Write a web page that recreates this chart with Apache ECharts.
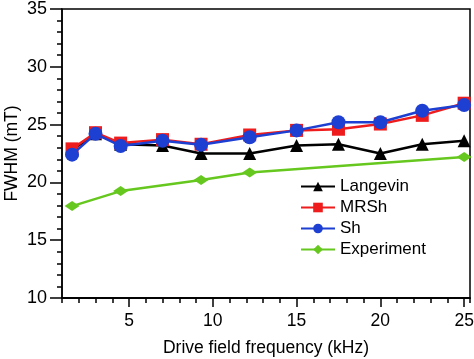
<!DOCTYPE html>
<html><head><meta charset="utf-8">
<script src="https://cdn.jsdelivr.net/npm/echarts@6/dist/echarts.min.js"></script>
<style>html,body{margin:0;padding:0;background:#fff}#c{width:474px;height:359px}</style>
</head><body><div id="c"></div>
<script>
const freq = [1.6, 3, 4.5, 7, 9.3, 12.2, 15, 17.5, 20, 22.5, 25];
const langevin = [22.8, 24.2, 23.3, 23.2, 22.5, 22.5, 23.2, 23.3, 22.5, 23.3, 23.6];
const mrsh = [22.9, 24.3, 23.4, 23.7, 23.3, 24.1, 24.5, 24.6, 25.05, 25.8, 26.85];
const sh = [22.4, 24.2, 23.15, 23.6, 23.25, 23.9, 24.5, 25.2, 25.2, 26.2, 26.7];
const expFreq = [1.6, 4.5, 9.3, 12.2, 25];
const experiment = [17.95, 19.25, 20.2, 20.85, 22.2];
const xMajor = [5, 10, 15, 20, 25];

const font = 'Liberation Sans, Arial, sans-serif';
const pair = (xs, ys) => xs.map((x, i) => [x, ys[i]]);
const chart = echarts.init(document.getElementById('c'));
const baseX = {
  type: 'value', min: 1, max: 25.35, gridIndex: 0, position: 'bottom',
  axisLine: {show: true, onZero: false, lineStyle: {color: '#000', width: 1.5}},
  splitLine: {show: false}
};
chart.setOption({
  animation: false,
  grid: {left: 62, right: 4, top: 9, bottom: 61, show: true, borderColor: '#000', borderWidth: 1.5,
         containLabel: false, outerBoundsMode: 'none'},
  legend: {
    orient: 'vertical', left: 295, top: 173, itemWidth: 34, itemHeight: 12, itemGap: 4,
    textStyle: {fontFamily: font, fontSize: 17, color: '#000'},
    data: ['Langevin', 'MRSh', 'Sh', 'Experiment']
  },
  xAxis: [
    Object.assign({}, baseX, {
      interval: 1,
      axisTick: {show: true, length: 5, lineStyle: {color: '#000', width: 1.5}},
      axisLabel: {show: false}
    }),
    Object.assign({}, baseX, {
      name: 'Drive field frequency (kHz)', nameLocation: 'middle', nameGap: 41, nameMoveOverlap: false,
      nameTextStyle: {fontFamily: font, fontSize: 17.5, color: '#000'},
      axisTick: {show: true, length: 9, customValues: xMajor, lineStyle: {color: '#000', width: 1.5}},
      axisLabel: {customValues: xMajor, fontFamily: font, fontSize: 17.5, color: '#000', margin: 14}
    })
  ],
  yAxis: {
    type: 'value', min: 10, max: 35, interval: 5,
    name: 'FWHM (mT)', nameLocation: 'middle', nameGap: 41, nameMoveOverlap: false,
    nameTextStyle: {fontFamily: font, fontSize: 17.5, color: '#000'},
    axisLine: {show: true, lineStyle: {color: '#000', width: 1.5}},
    axisTick: {show: true, length: 12, lineStyle: {color: '#000', width: 1.5}},
    minorTick: {show: true, splitNumber: 5, length: 5, lineStyle: {color: '#000', width: 1.5}},
    axisLabel: {fontFamily: font, fontSize: 18, color: '#000', margin: 15},
    splitLine: {show: false}
  },
  series: [
    {name: 'Langevin', type: 'line', data: pair(freq, langevin), symbol: 'triangle', symbolSize: 13,
     lineStyle: {color: '#000', width: 2.5}, itemStyle: {color: '#000'}, z: 2},
    {name: 'MRSh', type: 'line', data: pair(freq, mrsh), symbol: 'rect', symbolSize: 13,
     lineStyle: {color: '#ee1c1c', width: 2.5}, itemStyle: {color: '#ee1c1c'}, z: 3},
    {name: 'Sh', type: 'line', data: pair(freq, sh), symbol: 'circle', symbolSize: 14,
     lineStyle: {color: '#1d3fd2', width: 2.5}, itemStyle: {color: '#1d3fd2'}, z: 4},
    {name: 'Experiment', type: 'line', data: pair(expFreq, experiment), symbol: 'diamond', symbolSize: [15, 10],
     lineStyle: {color: '#66c81e', width: 2.5}, itemStyle: {color: '#66c81e'}, z: 2}
  ]
});
</script></body></html>
